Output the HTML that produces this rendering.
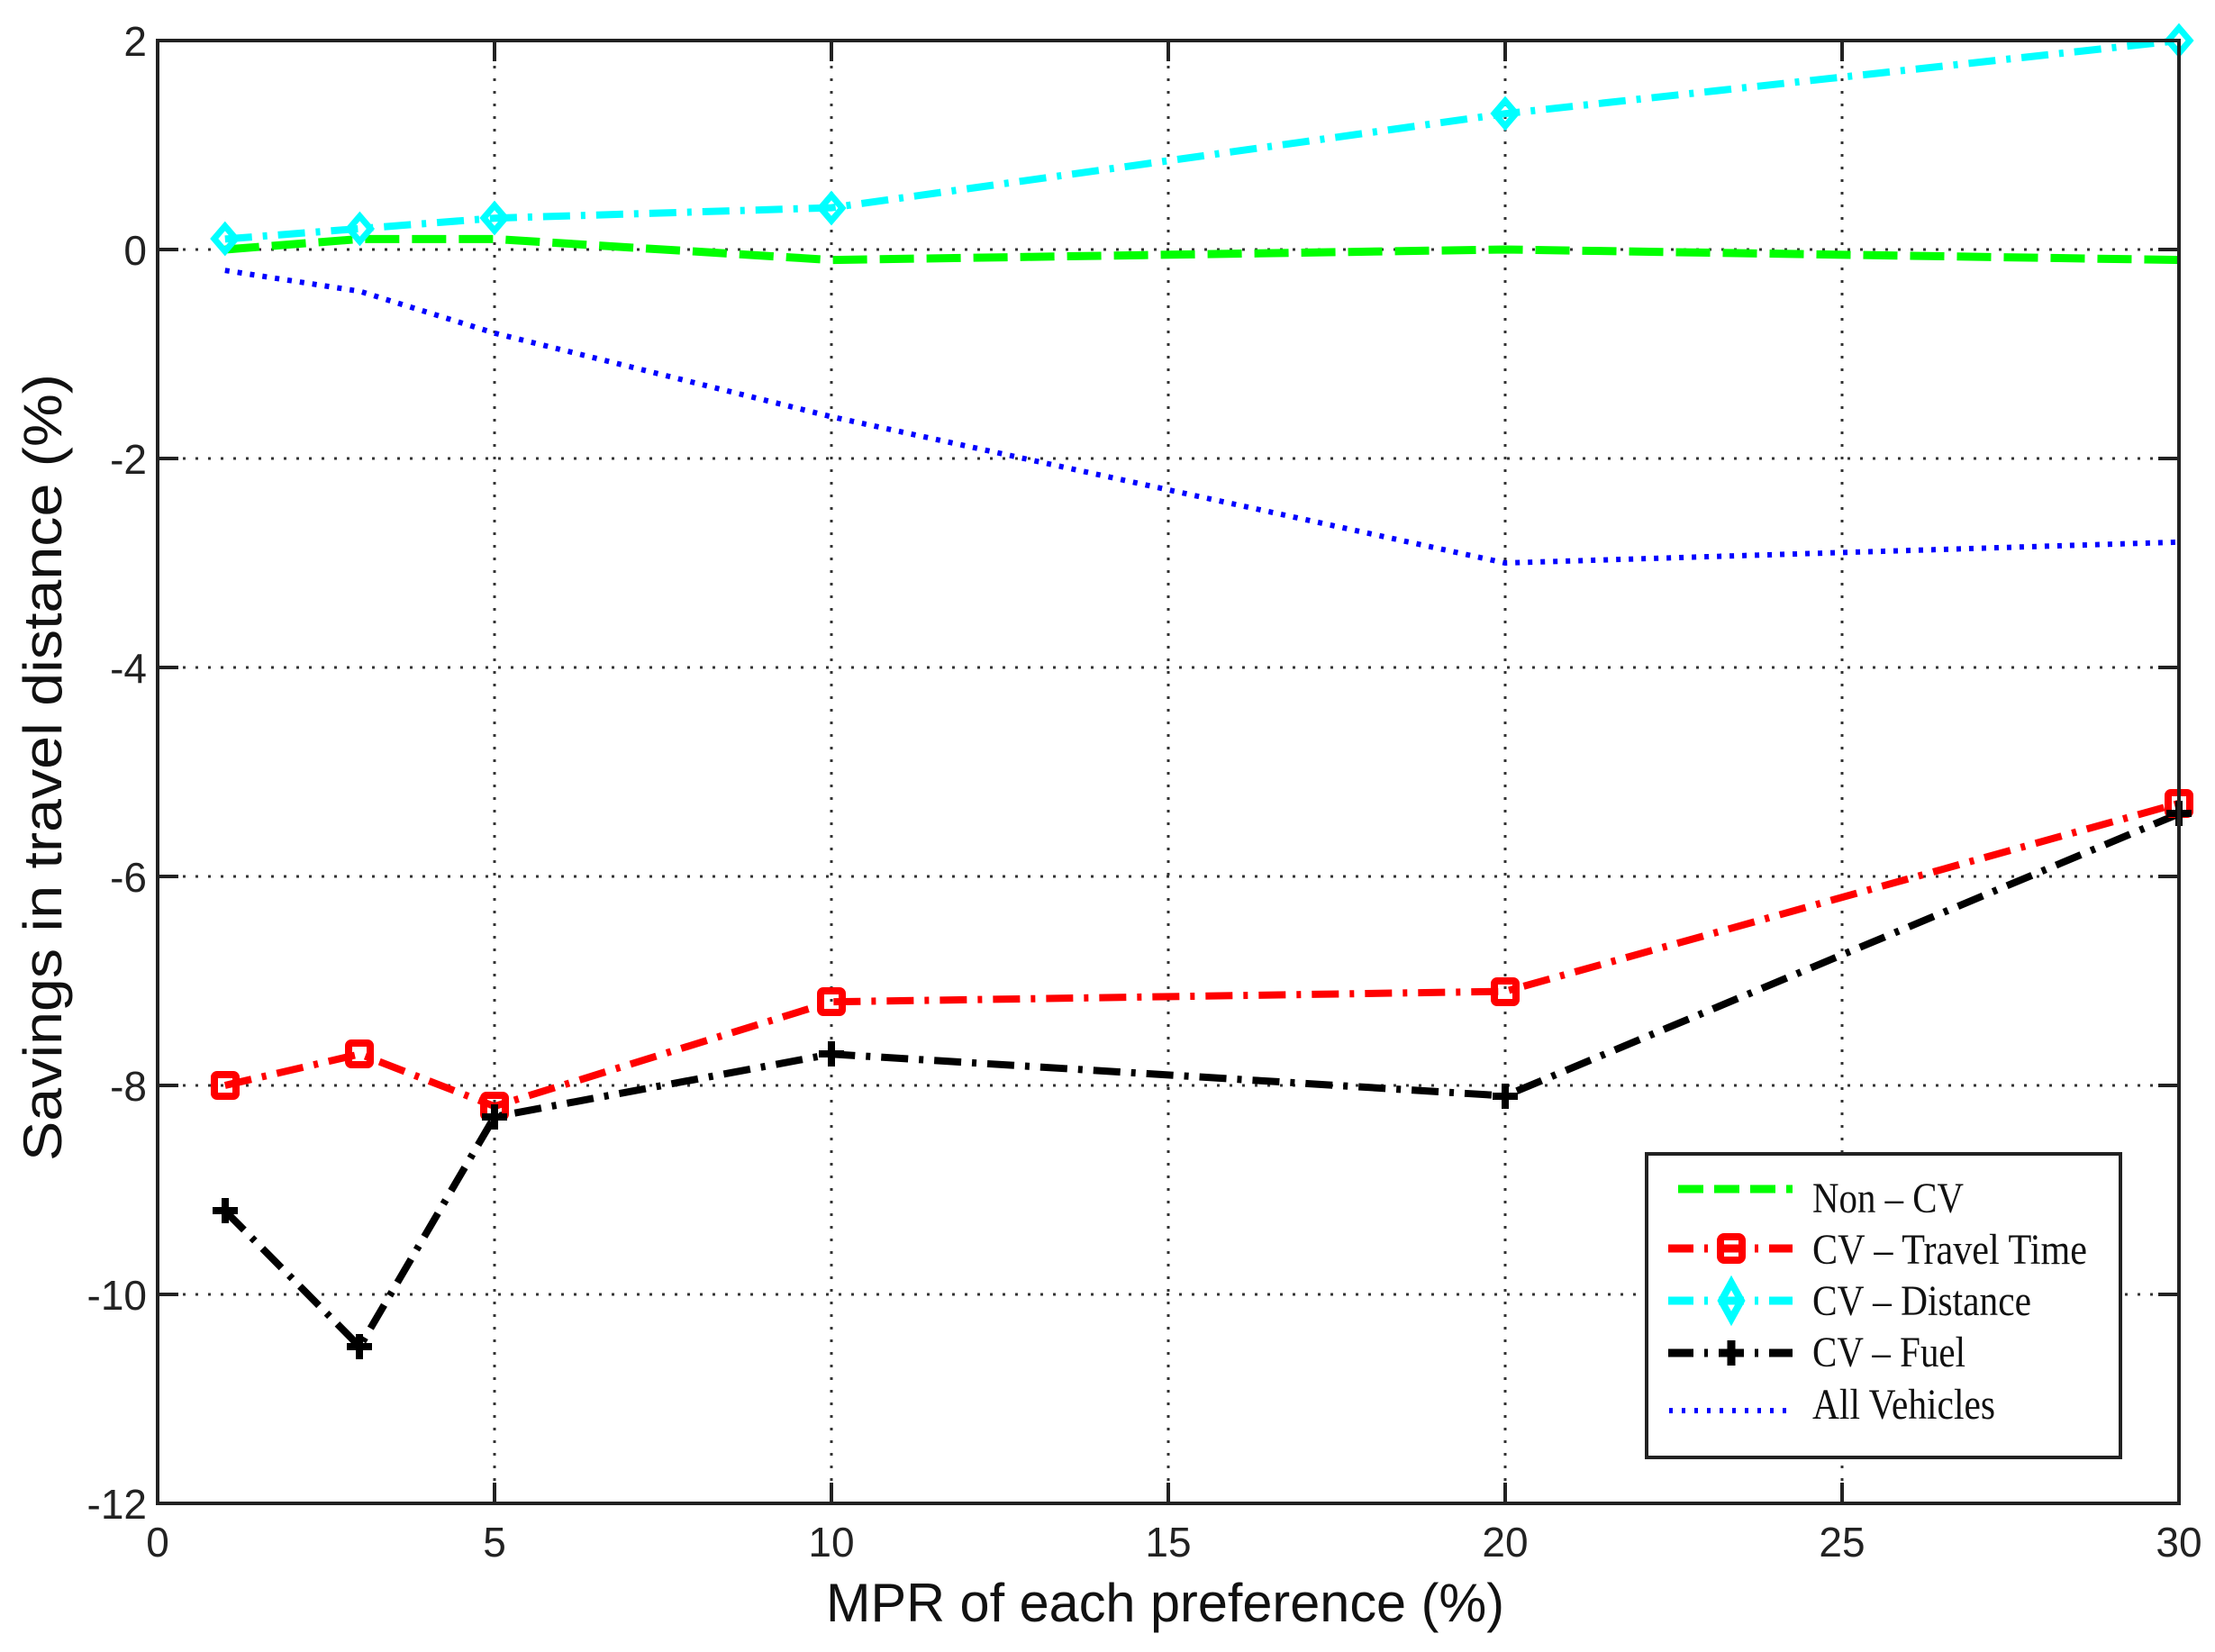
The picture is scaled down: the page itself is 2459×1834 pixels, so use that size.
<!DOCTYPE html>
<html><head><style>html,body{margin:0;padding:0;background:#fff}svg{display:block}</style></head>
<body>
<svg width="2459" height="1834" viewBox="0 0 2459 1834" xmlns="http://www.w3.org/2000/svg">
<rect width="2459" height="1834" fill="#fff"/>
<g stroke="#333" stroke-width="3" stroke-dasharray="3 11" fill="none">
<line x1="549" y1="45" x2="549" y2="1669"/><line x1="923" y1="45" x2="923" y2="1669"/><line x1="1297" y1="45" x2="1297" y2="1669"/><line x1="1671" y1="45" x2="1671" y2="1669"/><line x1="2045" y1="45" x2="2045" y2="1669"/>
<line x1="175" y1="277" x2="2419" y2="277"/><line x1="175" y1="509" x2="2419" y2="509"/><line x1="175" y1="741" x2="2419" y2="741"/><line x1="175" y1="973" x2="2419" y2="973"/><line x1="175" y1="1205" x2="2419" y2="1205"/><line x1="175" y1="1437" x2="2419" y2="1437"/>
</g>
<g stroke="#222" stroke-width="4">
<line x1="549" y1="1669" x2="549" y2="1646"/><line x1="923" y1="1669" x2="923" y2="1646"/><line x1="1297" y1="1669" x2="1297" y2="1646"/><line x1="1671" y1="1669" x2="1671" y2="1646"/><line x1="2045" y1="1669" x2="2045" y2="1646"/>
<line x1="549" y1="45" x2="549" y2="68"/><line x1="923" y1="45" x2="923" y2="68"/><line x1="1297" y1="45" x2="1297" y2="68"/><line x1="1671" y1="45" x2="1671" y2="68"/><line x1="2045" y1="45" x2="2045" y2="68"/>
<line x1="175" y1="277" x2="198" y2="277"/><line x1="175" y1="509" x2="198" y2="509"/><line x1="175" y1="741" x2="198" y2="741"/><line x1="175" y1="973" x2="198" y2="973"/><line x1="175" y1="1205" x2="198" y2="1205"/><line x1="175" y1="1437" x2="198" y2="1437"/>
<line x1="2419" y1="277" x2="2396" y2="277"/><line x1="2419" y1="509" x2="2396" y2="509"/><line x1="2419" y1="741" x2="2396" y2="741"/><line x1="2419" y1="973" x2="2396" y2="973"/><line x1="2419" y1="1205" x2="2396" y2="1205"/><line x1="2419" y1="1437" x2="2396" y2="1437"/>
</g>
<polyline fill="none" stroke="#0000ff" stroke-width="6" stroke-dasharray="5 9" points="249.8,300.2 399.4,323.4 549,369.8 923,462.6 1671,625 2419,601.8"/>
<polyline fill="none" stroke="#00ff00" stroke-width="9" stroke-dasharray="38 14" points="249.8,277 399.4,265.4 549,265.4 923,288.6 1671,277 2419,288.6"/>
<polyline fill="none" stroke="#00ffff" stroke-width="8" stroke-dasharray="30 12 5 12" points="249.8,265.4 399.4,253.8 549,242.2 923,230.6 1671,126.2 2419,45"/>
<polyline fill="none" stroke="#ff0000" stroke-width="8" stroke-dasharray="30 12 5 12" points="249.8,1205 399.4,1170.2 549,1228.2 923,1112.2 1671,1100.6 2419,891.8"/>
<polyline fill="none" stroke="#000" stroke-width="8" stroke-dasharray="30 12 5 12" points="249.8,1344.2 399.4,1495 549,1239.8 923,1170.2 1671,1216.6 2419,903.4"/>
<g fill="none" stroke="#00ffff" stroke-width="7">
<path d="M249.8,251 l12,14 -12,14 -12,-14z"/><path d="M399.4,240 l12,14 -12,14 -12,-14z"/><path d="M549,228 l12,14 -12,14 -12,-14z"/><path d="M923,217 l12,14 -12,14 -12,-14z"/><path d="M1671,112 l12,14 -12,14 -12,-14z"/><path d="M2419,31 l12,14 -12,14 -12,-14z"/>
</g>
<g fill="none" stroke="#ff0000" stroke-width="8">
<rect x="238" y="1193" width="24" height="24" rx="3"/><rect x="387" y="1158" width="24" height="24" rx="3"/><rect x="537" y="1216" width="24" height="24" rx="3"/><rect x="911" y="1100" width="24" height="24" rx="3"/><rect x="1659" y="1089" width="24" height="24" rx="3"/><rect x="2407" y="880" width="24" height="24" rx="3"/>
</g>
<g stroke="#000" stroke-width="8">
<path d="M236,1344h28M250,1330v28"/><path d="M385,1495h28M399,1481v28"/><path d="M535,1240h28M549,1226v28"/><path d="M909,1170h28M923,1156v28"/><path d="M1657,1217h28M1671,1203v28"/><path d="M2405,903h28M2419,889v28"/>
</g>
<rect x="175" y="45" width="2244" height="1624" fill="none" stroke="#222" stroke-width="4"/>
<g font-family="Liberation Sans, Arial, sans-serif" font-size="46" fill="#222">
<g text-anchor="end">
<text x="163" y="62">2</text><text x="163" y="294">0</text><text x="163" y="526">-2</text><text x="163" y="758">-4</text><text x="163" y="990">-6</text><text x="163" y="1222">-8</text><text x="163" y="1454">-10</text><text x="163" y="1686">-12</text>
</g>
<g text-anchor="middle">
<text x="175" y="1728">0</text><text x="549" y="1728">5</text><text x="923" y="1728">10</text><text x="1297" y="1728">15</text><text x="1671" y="1728">20</text><text x="2045" y="1728">25</text><text x="2419" y="1728">30</text>
</g>
</g>
<text x="917" y="1800" font-family="Liberation Sans, Arial, sans-serif" font-size="60" fill="#111" textLength="753" lengthAdjust="spacingAndGlyphs">MPR of each preference (%)</text>
<text transform="translate(68,1289) rotate(-90)" x="0" y="0" font-family="Liberation Sans, Arial, sans-serif" font-size="60" fill="#111" textLength="874" lengthAdjust="spacingAndGlyphs">Savings in travel distance (%)</text>
<rect x="1828" y="1281" width="526" height="337" fill="#fff" stroke="#222" stroke-width="4"/>
<g stroke-width="9" fill="none">
<line x1="1863" y1="1320" x2="1990" y2="1320" stroke="#00ff00" stroke-dasharray="28 12"/>
<line x1="1852" y1="1386" x2="1990" y2="1386" stroke="#ff0000" stroke-dasharray="28 12 4 12"/>
<line x1="1852" y1="1444" x2="1990" y2="1444" stroke="#00ffff" stroke-dasharray="28 12 4 12"/>
<line x1="1852" y1="1502" x2="1990" y2="1502" stroke="#000" stroke-dasharray="28 12 4 12"/>
<line x1="1853" y1="1566" x2="1985" y2="1566" stroke="#0000ff" stroke-width="6" stroke-dasharray="4 10"/>
<rect x="1910" y="1373" width="24" height="26" rx="4" stroke="#ff0000" stroke-width="8"/>
<path d="M1922,1424 l11,20 -11,20 -11,-20z" stroke="#00ffff" stroke-width="8"/>
<path d="M1908,1502h28M1922,1488v28" stroke="#000" stroke-width="9"/>
</g>
<g font-family="Liberation Serif, DejaVu Serif, serif" font-size="48" fill="#111">
<text x="2012" y="1346" textLength="168" lengthAdjust="spacingAndGlyphs">Non – CV</text>
<text x="2012" y="1403" textLength="305" lengthAdjust="spacingAndGlyphs">CV – Travel Time</text>
<text x="2012" y="1460" textLength="243" lengthAdjust="spacingAndGlyphs">CV – Distance</text>
<text x="2012" y="1517" textLength="170" lengthAdjust="spacingAndGlyphs">CV – Fuel</text>
<text x="2012" y="1575" textLength="203" lengthAdjust="spacingAndGlyphs">All Vehicles</text>
</g>
</svg>
</body></html>
